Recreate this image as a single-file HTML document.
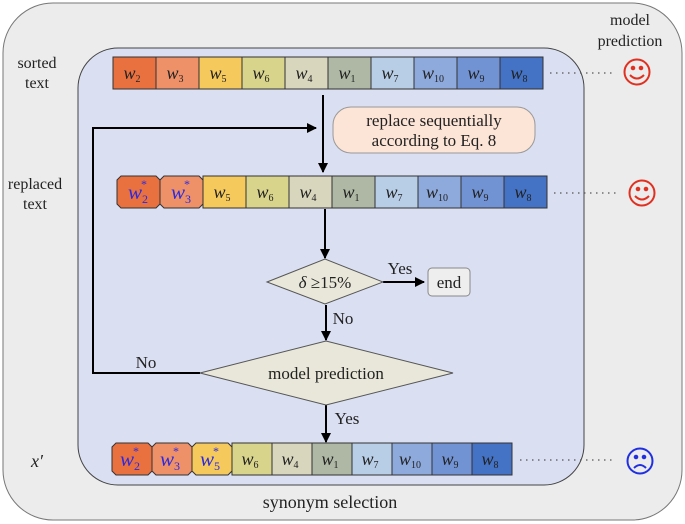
<!DOCTYPE html>
<html><head><meta charset="utf-8"><style>body{margin:0;background:#fff}svg{display:block;font-family:"Liberation Serif","Times New Roman",serif}svg text{font-family:"Liberation Serif","Times New Roman",serif;fill:#222}</style></head><body>
<svg width="685" height="524" viewBox="0 0 685 524" xmlns="http://www.w3.org/2000/svg" font-family="Liberation Serif, Times New Roman, serif">
<defs><marker id="a" markerWidth="10" markerHeight="10" refX="9" refY="5" orient="auto" markerUnits="userSpaceOnUse"><path d="M0,0 L10,5 L0,10 z" fill="#000"/></marker></defs>
<rect x="3" y="3" width="679" height="517" rx="50" fill="#ececec" stroke="#777" stroke-width="1"/>
<rect x="78" y="48" width="506" height="437" rx="40" fill="#dadff2" stroke="#444" stroke-width="1"/>
<g font-size="16" text-anchor="middle">
<text x="37" y="68">sorted</text><text x="37" y="88">text</text>
<text x="35" y="189">replaced</text><text x="35" y="209">text</text>
<text x="37" y="467" font-style="italic" font-size="18">x′</text>
<text x="630" y="25">model</text><text x="630" y="46">prediction</text>
<text x="330" y="508" font-size="18">synonym selection</text>
</g>
<g stroke="#333" stroke-width="1">
<rect x="113" y="57" width="43" height="32" fill="#e97140"/><rect x="156" y="57" width="43" height="32" fill="#ee9068"/><rect x="199" y="57" width="43" height="32" fill="#f6c95c"/><rect x="242" y="57" width="43" height="32" fill="#d9d48c"/><rect x="285" y="57" width="43" height="32" fill="#d8d6bc"/><rect x="328" y="57" width="43" height="32" fill="#aeb8a4"/><rect x="371" y="57" width="43" height="32" fill="#b8cde6"/><rect x="414" y="57" width="43" height="32" fill="#8ea9dc"/><rect x="457" y="57" width="43" height="32" fill="#7293d3"/><rect x="500" y="57" width="43" height="32" fill="#4472c4"/>
</g>
<g font-size="18" font-style="italic" text-anchor="middle">
<text x="132" y="79">w<tspan font-size="10" font-style="normal" dy="3">2</tspan></text>
<text x="175" y="79">w<tspan font-size="10" font-style="normal" dy="3">3</tspan></text>
<text x="218" y="79">w<tspan font-size="10" font-style="normal" dy="3">5</tspan></text>
<text x="261" y="79">w<tspan font-size="10" font-style="normal" dy="3">6</tspan></text>
<text x="304" y="79">w<tspan font-size="10" font-style="normal" dy="3">4</tspan></text>
<text x="347" y="79">w<tspan font-size="10" font-style="normal" dy="3">1</tspan></text>
<text x="390" y="79">w<tspan font-size="10" font-style="normal" dy="3">7</tspan></text>
<text x="433" y="79">w<tspan font-size="10" font-style="normal" dy="3">10</tspan></text>
<text x="476" y="79">w<tspan font-size="10" font-style="normal" dy="3">9</tspan></text>
<text x="519" y="79">w<tspan font-size="10" font-style="normal" dy="3">8</tspan></text>
</g>
<g stroke="#333" stroke-width="1">
<path d="M121,176 H156 L160,180 V204 L156,208 H121 L117,204 V180 Z" fill="#e97140"/>
<path d="M164,176 H199 L203,180 V204 L199,208 H164 L160,204 V180 Z" fill="#ee9068"/>
<rect x="203" y="176" width="43" height="32" fill="#f6c95c"/><rect x="246" y="176" width="43" height="32" fill="#d9d48c"/><rect x="289" y="176" width="43" height="32" fill="#d8d6bc"/><rect x="332" y="176" width="43" height="32" fill="#aeb8a4"/><rect x="375" y="176" width="43" height="32" fill="#b8cde6"/><rect x="418" y="176" width="43" height="32" fill="#8ea9dc"/><rect x="461" y="176" width="43" height="32" fill="#7293d3"/><rect x="504" y="176" width="43" height="32" fill="#4472c4"/>
</g>
<g font-size="18" font-style="italic" text-anchor="middle">
<text x="138" y="199" font-size="21" style="fill:#2a2ae0">w<tspan font-size="12" font-style="normal" dy="4" style="fill:#2a2ae0">2</tspan><tspan font-size="12" font-style="normal" dx="-7" dy="-15" style="fill:#2a2ae0">*</tspan></text>
<text x="181" y="199" font-size="21" style="fill:#2a2ae0">w<tspan font-size="12" font-style="normal" dy="4" style="fill:#2a2ae0">3</tspan><tspan font-size="12" font-style="normal" dx="-7" dy="-15" style="fill:#2a2ae0">*</tspan></text>
<text x="222" y="198">w<tspan font-size="10" font-style="normal" dy="3">5</tspan></text>
<text x="265" y="198">w<tspan font-size="10" font-style="normal" dy="3">6</tspan></text>
<text x="308" y="198">w<tspan font-size="10" font-style="normal" dy="3">4</tspan></text>
<text x="351" y="198">w<tspan font-size="10" font-style="normal" dy="3">1</tspan></text>
<text x="394" y="198">w<tspan font-size="10" font-style="normal" dy="3">7</tspan></text>
<text x="437" y="198">w<tspan font-size="10" font-style="normal" dy="3">10</tspan></text>
<text x="480" y="198">w<tspan font-size="10" font-style="normal" dy="3">9</tspan></text>
<text x="523" y="198">w<tspan font-size="10" font-style="normal" dy="3">8</tspan></text>
</g>
<g stroke="#333" stroke-width="1">
<path d="M116,443 H148 L152,447 V471 L148,475 H116 L112,471 V447 Z" fill="#e97140"/>
<path d="M156,443 H188 L192,447 V471 L188,475 H156 L152,471 V447 Z" fill="#ee9068"/>
<path d="M196,443 H228 L232,447 V471 L228,475 H196 L192,471 V447 Z" fill="#f6c95c"/>
<rect x="232" y="443" width="40" height="32" fill="#d9d48c"/><rect x="272" y="443" width="40" height="32" fill="#d8d6bc"/><rect x="312" y="443" width="40" height="32" fill="#aeb8a4"/><rect x="352" y="443" width="40" height="32" fill="#b8cde6"/><rect x="392" y="443" width="40" height="32" fill="#8ea9dc"/><rect x="432" y="443" width="40" height="32" fill="#7293d3"/><rect x="472" y="443" width="40" height="32" fill="#4472c4"/>
</g>
<g font-size="18" font-style="italic" text-anchor="middle">
<text x="130" y="466" font-size="21" style="fill:#2a2ae0">w<tspan font-size="12" font-style="normal" dy="4" style="fill:#2a2ae0">2</tspan><tspan font-size="12" font-style="normal" dx="-7" dy="-15" style="fill:#2a2ae0">*</tspan></text>
<text x="170" y="466" font-size="21" style="fill:#2a2ae0">w<tspan font-size="12" font-style="normal" dy="4" style="fill:#2a2ae0">3</tspan><tspan font-size="12" font-style="normal" dx="-7" dy="-15" style="fill:#2a2ae0">*</tspan></text>
<text x="210" y="466" font-size="21" style="fill:#2a2ae0">w<tspan font-size="12" font-style="normal" dy="4" style="fill:#2a2ae0">5</tspan><tspan font-size="12" font-style="normal" dx="-7" dy="-15" style="fill:#2a2ae0">*</tspan></text>
<text x="250" y="465">w<tspan font-size="10" font-style="normal" dy="3">6</tspan></text>
<text x="290" y="465">w<tspan font-size="10" font-style="normal" dy="3">4</tspan></text>
<text x="330" y="465">w<tspan font-size="10" font-style="normal" dy="3">1</tspan></text>
<text x="370" y="465">w<tspan font-size="10" font-style="normal" dy="3">7</tspan></text>
<text x="410" y="465">w<tspan font-size="10" font-style="normal" dy="3">10</tspan></text>
<text x="450" y="465">w<tspan font-size="10" font-style="normal" dy="3">9</tspan></text>
<text x="490" y="465">w<tspan font-size="10" font-style="normal" dy="3">8</tspan></text>
</g>
<g stroke="#555" stroke-width="1.2" stroke-dasharray="1.5,4.5">
<line x1="550" y1="73" x2="615" y2="73"/><line x1="554" y1="193" x2="618" y2="193"/><line x1="520" y1="460" x2="615" y2="460"/>
</g>
<g fill="none" stroke-width="2">
<g stroke="#e03020"><circle cx="637" cy="72" r="12.5"/><circle cx="633" cy="68" r="1.3" fill="#e03020"/><circle cx="641" cy="68" r="1.3" fill="#e03020"/><path d="M630,75 Q637,82 644,75"/></g>
<g stroke="#e03020"><circle cx="642" cy="193" r="12.5"/><circle cx="638" cy="189" r="1.3" fill="#e03020"/><circle cx="646" cy="189" r="1.3" fill="#e03020"/><path d="M635,196 Q642,203 649,196"/></g>
<g stroke="#2030e0"><circle cx="640" cy="461" r="12.5"/><circle cx="636" cy="457" r="1.3" fill="#2030e0"/><circle cx="644" cy="457" r="1.3" fill="#2030e0"/><path d="M634,468 Q640,462 646,468"/></g>
</g>
<rect x="333" y="107" width="202" height="46" rx="18" fill="#fce4d6" stroke="#999"/>
<text x="434" y="126" font-size="17" text-anchor="middle">replace sequentially</text>
<text x="434" y="146" font-size="17" text-anchor="middle">according to Eq. 8</text>
<g stroke="#000" stroke-width="2" fill="none">
<line x1="323" y1="95" x2="323" y2="172" marker-end="url(#a)"/>
<polyline points="200,373 93,373 93,128 316,128" marker-end="url(#a)"/>
<line x1="325" y1="209" x2="325" y2="258" marker-end="url(#a)"/>
<line x1="383" y1="282" x2="424" y2="282" marker-end="url(#a)"/>
<line x1="326" y1="305" x2="326" y2="340" marker-end="url(#a)"/>
<line x1="326" y1="405" x2="326" y2="442" marker-end="url(#a)"/>
</g>
<polygon points="267,282 325,259 383,282 325,304" fill="#e9e7d9" stroke="#555"/>
<polygon points="200,373 326,341 453,373 326,405" fill="#e9e7d9" stroke="#555"/>
<rect x="428" y="268" width="42" height="28" rx="4" fill="#eeeeee" stroke="#888"/>
<g font-size="17" text-anchor="middle">
<text x="449" y="288">end</text>
<text x="325" y="288"><tspan font-style="italic">δ</tspan> ≥15%</text>
<text x="326" y="379">model prediction</text>
<text x="400" y="274">Yes</text>
<text x="343" y="324">No</text>
<text x="146" y="368">No</text>
<text x="347" y="424">Yes</text>
</g>
</svg>
</body></html>
